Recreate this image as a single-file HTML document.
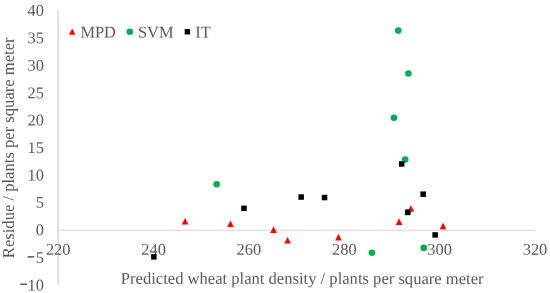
<!DOCTYPE html><html><head><meta charset="utf-8"><title>Residue chart</title><style>html,body{margin:0;padding:0;background:#fff}svg{display:block}text{font-family:"Liberation Serif","Times New Roman",serif;font-size:16.4px;fill:#595959}</style></head><body>
<svg width="550" height="293" viewBox="0 0 550 293">
<rect width="550" height="293" fill="#fff"/>
<line x1="58.1" y1="10.4" x2="58.1" y2="285" stroke="#d9d9d9" stroke-width="1.5"/>
<line x1="58" y1="230.3" x2="535.3" y2="230.3" stroke="#d4d4d4" stroke-width="1.1"/>
<text x="44" y="290.40" transform="rotate(0.05 44 290.40)" text-anchor="end"><tspan dy="-0.6" textLength="7.3" lengthAdjust="spacingAndGlyphs" style="stroke:#595959;stroke-width:0.7">−</tspan><tspan dx="0.4" dy="0.6">10</tspan></text>
<text x="44" y="262.94" transform="rotate(0.05 44 262.94)" text-anchor="end"><tspan dy="-0.6" textLength="7.3" lengthAdjust="spacingAndGlyphs" style="stroke:#595959;stroke-width:0.7">−</tspan><tspan dx="1.3" dy="0.6">5</tspan></text>
<text x="44" y="235.18" transform="rotate(0.05 44 235.18)" text-anchor="end">0</text>
<text x="44" y="207.72" transform="rotate(0.05 44 207.72)" text-anchor="end">5</text>
<text x="44" y="180.56" transform="rotate(0.05 44 180.56)" text-anchor="end">10</text>
<text x="44" y="153.10" transform="rotate(0.05 44 153.10)" text-anchor="end">15</text>
<text x="44" y="125.64" transform="rotate(0.05 44 125.64)" text-anchor="end">20</text>
<text x="44" y="98.18" transform="rotate(0.05 44 98.18)" text-anchor="end">25</text>
<text x="44" y="70.72" transform="rotate(0.05 44 70.72)" text-anchor="end">30</text>
<text x="44" y="43.26" transform="rotate(0.05 44 43.26)" text-anchor="end">35</text>
<text x="44" y="15.80" transform="rotate(0.05 44 15.80)" text-anchor="end">40</text>
<text x="58.2" y="254.65" transform="rotate(0.05 58.2 254.65)" text-anchor="middle">220</text>
<text x="153.6" y="254.65" transform="rotate(0.05 153.6 254.65)" text-anchor="middle">240</text>
<text x="248.9" y="254.65" transform="rotate(0.05 248.9 254.65)" text-anchor="middle">260</text>
<text x="344.3" y="254.65" transform="rotate(0.05 344.3 254.65)" text-anchor="middle">280</text>
<text x="439.6" y="254.65" transform="rotate(0.05 439.6 254.65)" text-anchor="middle">300</text>
<text x="535.0" y="254.65" transform="rotate(0.05 535.0 254.65)" text-anchor="middle">320</text>
<text x="302.2" y="283.8" transform="rotate(0.05 302.2 283.8)" text-anchor="middle" style="font-size:16.58px">Predicted wheat plant density / plants per square meter</text>
<text transform="translate(14.2,147.8) rotate(-90)" text-anchor="middle" style="font-size:16.6px">Residue / plants per square meter</text>
<polygon points="72.2,28.4 69.0,34.8 75.4,34.8" fill="#ff0000"/>
<text x="80.4" y="37.4" transform="rotate(0.05 80.4 37.4)">MPD</text>
<circle cx="129.8" cy="31.8" r="3.3" fill="#00b050"/>
<text x="138" y="37.4" transform="rotate(0.05 138 37.4)">SVM</text>
<rect x="184.7" y="29.1" width="5.4" height="5.4" fill="#000"/>
<text x="195.3" y="37.4" transform="rotate(0.05 195.3 37.4)">IT</text>
<polygon points="185.1,217.9 181.8,224.5 188.4,224.5" fill="#ff0000"/>
<polygon points="230.5,220.5 227.2,227.1 233.8,227.1" fill="#ff0000"/>
<polygon points="273.6,226.3 270.3,232.9 276.9,232.9" fill="#ff0000"/>
<polygon points="287.6,237.0 284.3,243.6 290.9,243.6" fill="#ff0000"/>
<polygon points="338.5,233.8 335.2,240.4 341.8,240.4" fill="#ff0000"/>
<polygon points="399.1,218.3 395.8,224.9 402.4,224.9" fill="#ff0000"/>
<polygon points="410.9,205.2 407.6,211.8 414.2,211.8" fill="#ff0000"/>
<polygon points="443.1,222.7 439.8,229.3 446.4,229.3" fill="#ff0000"/>
<circle cx="216.7" cy="184.2" r="3.3" fill="#00b050"/>
<circle cx="398.3" cy="30.6" r="3.3" fill="#00b050"/>
<circle cx="408.4" cy="73.5" r="3.3" fill="#00b050"/>
<circle cx="394.0" cy="117.8" r="3.3" fill="#00b050"/>
<circle cx="405.2" cy="159.6" r="3.3" fill="#00b050"/>
<circle cx="371.9" cy="252.7" r="3.3" fill="#00b050"/>
<circle cx="423.8" cy="247.9" r="3.3" fill="#00b050"/>
<circle cx="408.1" cy="211.8" r="3.15" fill="#00b050"/>
<rect x="151.1" y="254.1" width="5.5" height="5.5" fill="#000"/>
<rect x="241.2" y="205.6" width="5.5" height="5.5" fill="#000"/>
<rect x="298.4" y="194.3" width="5.5" height="5.5" fill="#000"/>
<rect x="321.8" y="194.8" width="5.5" height="5.5" fill="#000"/>
<rect x="398.9" y="161.2" width="5.5" height="5.5" fill="#000"/>
<rect x="404.9" y="209.7" width="5.5" height="5.5" fill="#000"/>
<rect x="420.4" y="191.4" width="5.5" height="5.5" fill="#000"/>
<rect x="432.4" y="232.2" width="5.5" height="5.5" fill="#000"/>
</svg></body></html>
